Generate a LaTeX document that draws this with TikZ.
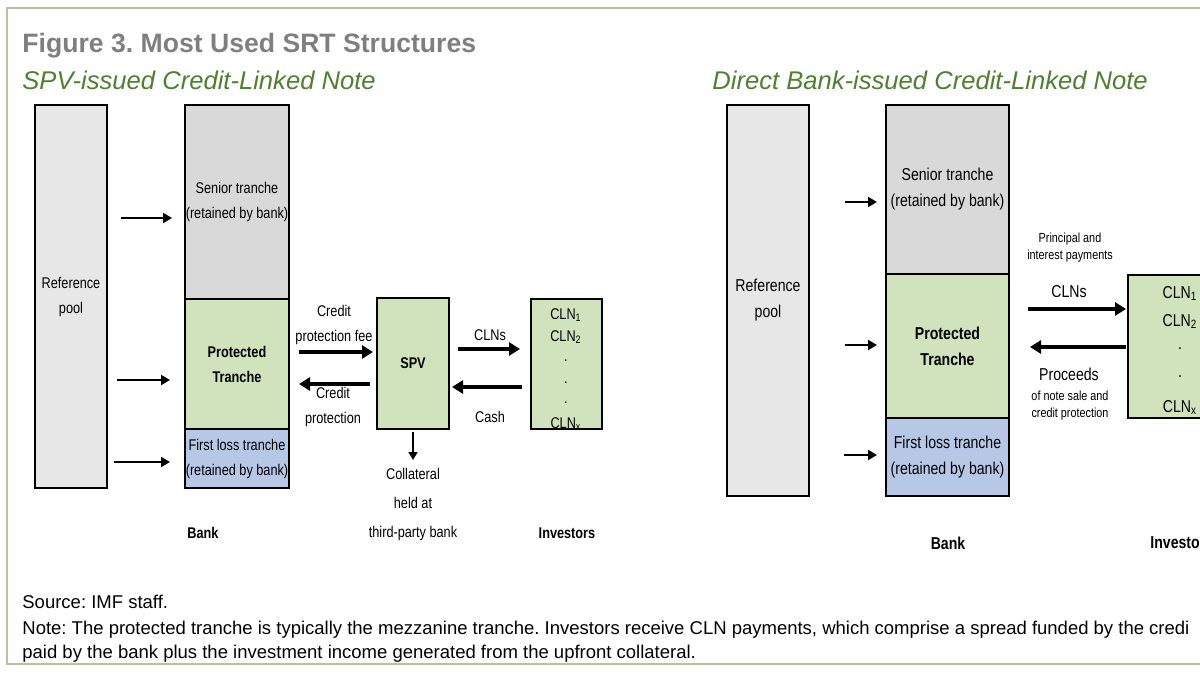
\documentclass[tikz,border=0pt]{standalone}
\usepackage{fontspec}
\setmainfont{Liberation Sans}
\newfontfamily\nar[FakeStretch=0.82]{Liberation Sans}
\usetikzlibrary{arrows.meta,calc}
\frenchspacing
\definecolor{poolgray}{HTML}{E8E7E7}
\definecolor{seniorgray}{HTML}{D9D9D9}
\definecolor{protgreen}{HTML}{D1E3BD}
\definecolor{lossblue}{HTML}{B7C8E7}
\definecolor{titlegray}{HTML}{7F7F7F}
\definecolor{subgreen}{HTML}{4E8030}
\definecolor{framecol}{HTML}{B4C59E}
\tikzset{
  wh/.style 2 args={minimum width=#1*0.5pt, minimum height=#2*0.5pt},
  box/.style={draw=black, line width=0.9pt, inner sep=0pt, outer sep=0pt, align=center},
  lt/.style={font=\nar\fontsize{7.75}{12.5}\selectfont, align=center, inner sep=0pt},
  rt/.style={font=\nar\fontsize{8.6}{13}\selectfont, align=center, inner sep=0pt},
  smallt/.style={font=\nar\fontsize{6.6}{8.5}\selectfont, align=center, inner sep=0pt},
  foot/.style={anchor=base west, inner sep=0pt, font=\fontsize{9.25}{12}\selectfont},
  subt/.style={anchor=base west, inner sep=0pt, text=subgreen, font=\itshape\fontsize{12.8}{14}\selectfont},
  bankarr/.style={line width=1pt, -{Triangle[length=4.5pt,width=5pt]}},
  bigarr/.style={line width=1.6pt, -{Triangle[length=5.5pt,width=6.5pt]}},
  thinarr/.style={line width=0.8pt, -{Triangle[length=4pt,width=4.5pt]}},
}
\begin{document}
\begin{tikzpicture}[x=0.5pt,y=-0.5pt]
\clip (0,0) rectangle (1200,675);
\fill[white] (0,0) rectangle (1200,675);
\draw[framecol, line width=0.7pt] (1205,8) -- (7,8) -- (7,664) -- (1205,664);

% titles
\node[anchor=base west, inner sep=0pt, text=titlegray, font=\bfseries\fontsize{13.3}{15}\selectfont] (title) at (22,52) {Figure 3. Most Used SRT Structures};
\node[subt] (sub1) at (22,89) {SPV-issued Credit-Linked Note};
\node[subt] (sub2) at (712,89) {Direct Bank-issued Credit-Linked Note};

% ---------- left panel ----------
\node[box, fill=poolgray, wh={72}{383}, lt] (pool) at (71,296.5) {Reference\\pool};
\node[box, fill=seniorgray, wh={104}{194}, lt] (senior) at (237,202) {Senior tranche\\(retained by bank)};
\node[box, fill=protgreen, wh={104}{130}, lt, font=\nar\bfseries\fontsize{7.75}{12.5}\selectfont] (prot) at (237,364) {Protected\\Tranche};
\node[box, fill=lossblue, wh={104}{59}, lt] (loss) at (237,458.5) {First loss tranche\\(retained by bank)};
\node[box, fill=protgreen, wh={72}{131}, lt, font=\nar\bfseries\fontsize{7.75}{12.5}\selectfont] (spv) at (413,363.5) {SPV};
\node[box, fill=protgreen, wh={71}{130}] (inv) at (566.5,364) {};
\node[lt, anchor=base] (c1) at (566,319) {CLN\textsubscript{1}};
\node[lt, anchor=base] (c2) at (566,341) {CLN\textsubscript{2}};
\node[lt] (d1) at (566,361) {.};
\node[lt] (d2) at (566,383) {.};
\node[lt] (d3) at (566,403) {.};
\begin{scope}
\clip (inv.north west) rectangle (inv.south east);
\node[lt, anchor=base] (cx) at (566,428) {CLN\textsubscript{x}};
\end{scope}
\draw[line width=0.9pt] (inv.north west) rectangle (inv.south east);

\draw[bankarr] ($(pool.east|-0,218)+(14,0)$) -- ($(senior.west|-0,218)+(-13,0)$);
\draw[bankarr] ($(pool.east|-0,380)+(10,0)$) -- ($(prot.west|-0,380)+(-15,0)$);
\draw[bankarr] ($(pool.east|-0,462)+(7,0)$) -- ($(loss.west|-0,462)+(-15,0)$);

\draw[bigarr] ($(prot.east|-0,352)+(10,0)$) -- ($(spv.west|-0,352)+(-4,0)$);
\draw[bigarr] ($(spv.west|-0,384)+(-7,0)$) -- ($(prot.east|-0,384)+(10,0)$);
\draw[bigarr] ($(spv.east|-0,349)+(9,0)$) -- ($(inv.west|-0,349)+(-11,0)$);
\draw[bigarr] ($(inv.west|-0,387)+(-9,0)$) -- ($(spv.east|-0,387)+(3,0)$);
\draw[thinarr] ($(spv.south)+(0,3)$) -- ($(spv.south)+(0,31)$);

\node[lt] (l1) at (334,325) {Credit\\protection fee};
\node[lt] (l2) at (333,407) {Credit\\protection};
\node[lt] (l3) at (490,335) {CLNs};
\node[lt] (l4) at (490,417) {Cash};
\node[lt, font=\nar\fontsize{7.75}{14.5}\selectfont] (l5) at (413,504) {Collateral\\held at\\third-party bank};
\node[lt, font=\nar\bfseries\fontsize{7.75}{12.5}\selectfont] (bank1) at (203,533) {Bank};
\node[lt, font=\nar\bfseries\fontsize{7.75}{12.5}\selectfont] (inv1) at (567,533) {Investors};

% ---------- right panel ----------
\node[box, fill=poolgray, wh={82}{391}, rt] (pool2) at (768,300.5) {Reference\\pool};
\node[box, fill=seniorgray, wh={123}{169}, rt] (senior2) at (947.5,189.5) {Senior tranche\\(retained by bank)};
\node[box, fill=protgreen, wh={123}{144}, rt, font=\nar\bfseries\fontsize{8.6}{13}\selectfont] (prot2) at (947.5,346) {Protected\\Tranche};
\node[box, fill=lossblue, wh={123}{78}, rt] (loss2) at (947.5,457) {First loss tranche\\(retained by bank)};
\node[box, fill=protgreen, wh={110}{143}] (inv2) at (1183,346.5) {};
\node[rt, anchor=base] (e1) at (1180,298) {CLN\textsubscript{1}};
\node[rt, anchor=base] (e2) at (1180,326) {CLN\textsubscript{2}};
\node[rt] (f1) at (1180,349) {.};
\node[rt] (f2) at (1180,377) {.};
\node[rt, anchor=base] (ex) at (1180,412) {CLN\textsubscript{x}};

\draw[bankarr] ($(pool2.east|-0,202)+(36,0)$) -- ($(senior2.west|-0,202)+(-9,0)$);
\draw[bankarr] ($(pool2.east|-0,345)+(36,0)$) -- ($(prot2.west|-0,345)+(-9,0)$);
\draw[bankarr] ($(pool2.east|-0,455)+(35,0)$) -- ($(loss2.west|-0,455)+(-9,0)$);

\draw[bigarr] ($(prot2.east|-0,309)+(19,0)$) -- ($(inv2.west|-0,309)+(-2,0)$);
\draw[bigarr] ($(inv2.west|-0,347)+(-2,0)$) -- ($(prot2.east|-0,347)+(21,0)$);

\node[smallt] (r1) at (1070,247.5) {Principal and\\interest payments};
\node[rt] (r2) at (1069,292) {CLNs};
\node[rt] (r3) at (1069,374) {Proceeds};
\node[smallt] (r4) at (1070,406) {of note sale and\\credit protection};
\node[rt, font=\nar\bfseries\fontsize{8.6}{13}\selectfont] (bank2) at (948,543) {Bank};
\node[rt, font=\nar\bfseries\fontsize{8.6}{13}\selectfont, anchor=west] (inv2l) at (1150,543) {Investo};

% ---------- footer ----------
\node[foot] (src) at (22,608) {Source: IMF staff.};
\node[foot] (note1) at (22,634) {Note: The protected tranche is typically the mezzanine tranche. Investors receive CLN payments, which comprise a spread funded by the credi};
\node[foot] (note2) at (22,658) {paid by the bank plus the investment income generated from the upfront collateral.};
\end{tikzpicture}
\end{document}
